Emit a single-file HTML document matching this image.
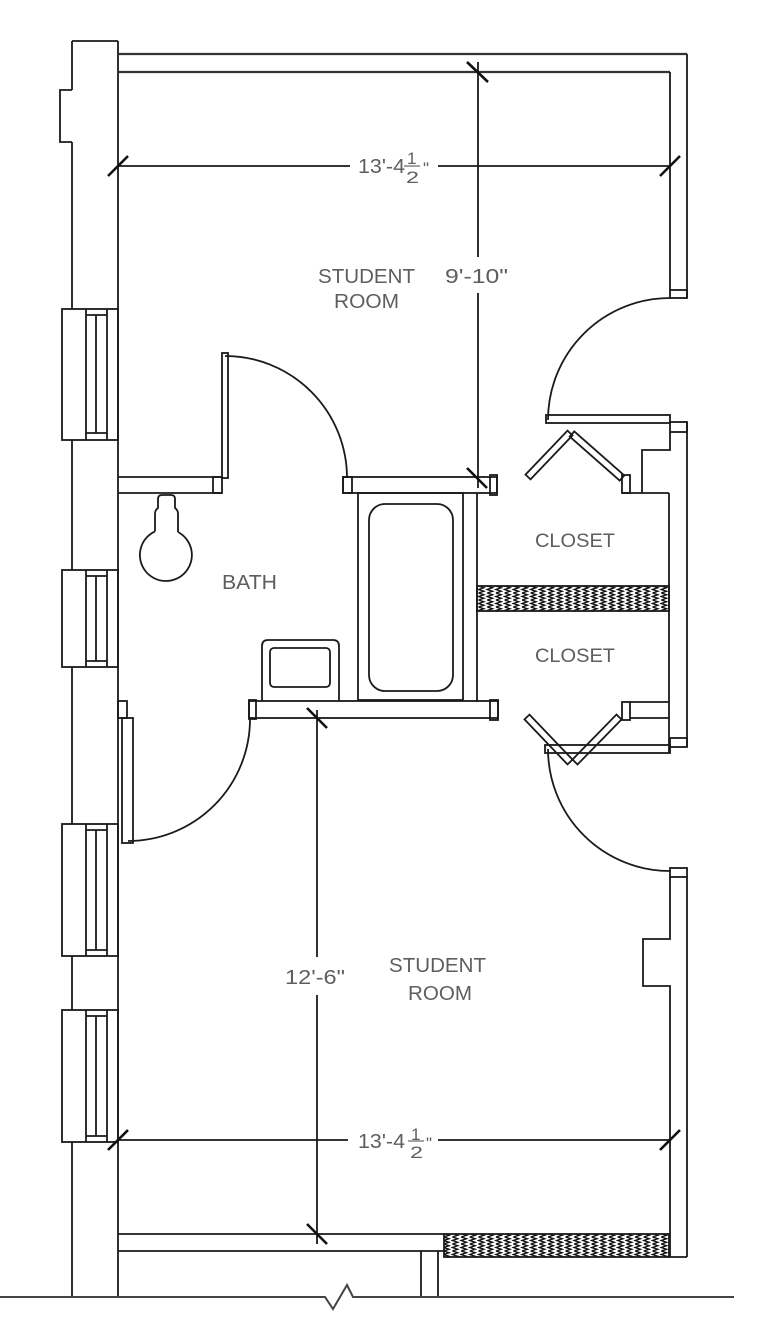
<!DOCTYPE html>
<html>
<head>
<meta charset="utf-8">
<style>
  html, body { margin: 0; padding: 0; background: #fff; }
  svg { display: block; }
  text { font-family: "Liberation Sans", sans-serif; fill: #5e5e5e; }
</style>
</head>
<body>
<svg width="762" height="1329" viewBox="0 0 762 1329" xmlns="http://www.w3.org/2000/svg">
  <defs>
    <pattern id="z" patternUnits="userSpaceOnUse" width="8.7" height="7" x="477" y="586">
      <path d="M1.5,0 L6.8,1.75 L1.5,3.5 L6.8,5.25 L1.5,7" fill="none" stroke="#111" stroke-width="1.4"/>
    </pattern>
  </defs>
  <rect width="762" height="1329" fill="#fff"/>

  <g fill="none" stroke="#1a1a1a" stroke-width="1.8">
    <!-- left column -->
    <line x1="72" y1="41" x2="118" y2="41"/>
    <line x1="118" y1="41" x2="118" y2="1297"/>
    <line x1="72" y1="41" x2="72" y2="90"/>
    <polyline points="72,90 60,90 60,142 72,142"/>
    <line x1="72" y1="142" x2="72" y2="309"/>
    <line x1="72" y1="440" x2="72" y2="570"/>
    <line x1="72" y1="667" x2="72" y2="824"/>
    <line x1="72" y1="956" x2="72" y2="1010"/>
    <line x1="72" y1="1142" x2="72" y2="1297"/>

    <!-- windows -->
    <rect x="62" y="309" width="56" height="131"/>
    <line x1="86" y1="309" x2="86" y2="440"/><line x1="107" y1="309" x2="107" y2="440"/>
    <line x1="86" y1="315" x2="107" y2="315"/><line x1="86" y1="433" x2="107" y2="433"/>
    <line x1="96" y1="315" x2="96" y2="433"/>

    <rect x="62" y="570" width="56" height="97"/>
    <line x1="86" y1="570" x2="86" y2="667"/><line x1="107" y1="570" x2="107" y2="667"/>
    <line x1="86" y1="576" x2="107" y2="576"/><line x1="86" y1="661" x2="107" y2="661"/>
    <line x1="96" y1="576" x2="96" y2="661"/>

    <rect x="62" y="824" width="56" height="132"/>
    <line x1="86" y1="824" x2="86" y2="956"/><line x1="107" y1="824" x2="107" y2="956"/>
    <line x1="86" y1="830" x2="107" y2="830"/><line x1="86" y1="950" x2="107" y2="950"/>
    <line x1="96" y1="830" x2="96" y2="950"/>

    <rect x="62" y="1010" width="56" height="132"/>
    <line x1="86" y1="1010" x2="86" y2="1142"/><line x1="107" y1="1010" x2="107" y2="1142"/>
    <line x1="86" y1="1016" x2="107" y2="1016"/><line x1="86" y1="1136" x2="107" y2="1136"/>
    <line x1="96" y1="1016" x2="96" y2="1136"/>

    <!-- top walls -->
    <line x1="118" y1="54" x2="687" y2="54" stroke="#333" stroke-width="2.2"/>
    <line x1="118" y1="72" x2="670" y2="72" stroke="#333" stroke-width="2.2"/>
    <line x1="687" y1="54" x2="687" y2="298"/>
    <line x1="670" y1="72" x2="670" y2="290"/>
    <rect x="670" y="290" width="17" height="8"/>

    <!-- upper room door -->
    <rect x="546" y="415" width="124" height="8"/>
    <path d="M548,420 A122,122 0 0 1 670,298"/>
    <rect x="670" y="422" width="17" height="10"/>
    <line x1="687" y1="422" x2="687" y2="747"/>
    <polyline points="670,432 670,450 642,450 642,493"/>
    <line x1="622" y1="493" x2="669" y2="493"/>
    <rect x="622" y="475" width="8" height="18"/>
    <line x1="669" y1="493" x2="669" y2="753"/>

    <!-- closets -->
    <line x1="477" y1="493" x2="477" y2="702"/>
    <rect x="477" y="586" width="192" height="25" fill="url(#z)"/>
    <rect x="622" y="702" width="8" height="18"/>
    <line x1="630" y1="702" x2="669" y2="702"/>
    <line x1="630" y1="718" x2="669" y2="718"/>

    <!-- bifold doors -->
    <polygon points="530.5,479.4 572.5,435.4 567.5,430.6 525.5,474.6"/>
    <polygon points="569.7,436.6 619.7,480.6 624.3,475.4 574.3,431.4"/>
    <polygon points="524.5,719.4 567.5,764.4 572.5,759.6 529.5,714.6"/>
    <polygon points="577.5,764.5 621.5,719.5 616.5,714.5 572.5,759.5"/>

    <!-- lower room door -->
    <rect x="545" y="745" width="125" height="8"/>
    <rect x="670" y="738" width="17" height="9"/>
    <path d="M670,871 A122,122 0 0 1 548,749"/>
    <rect x="670" y="868" width="17" height="9"/>
    <line x1="687" y1="877" x2="687" y2="1257"/>
    <polyline points="670,877 670,939 643,939 643,986 670,986 670,1257"/>
    <line x1="669" y1="1257" x2="687" y2="1257"/>

    <!-- bottom walls -->
    <rect x="444" y="1234" width="225" height="23" fill="url(#z)"/>
    <line x1="118" y1="1234" x2="444" y2="1234"/>
    <line x1="118" y1="1251" x2="444" y2="1251"/>
    <line x1="421" y1="1251" x2="421" y2="1297"/>
    <line x1="438" y1="1251" x2="438" y2="1297"/>
    <polyline points="0,1297 325,1297 333,1309 347,1285 353,1297 734,1297" stroke="#444" stroke-width="2"/>

    <!-- bath upper walls and door -->
    <line x1="118" y1="477" x2="222" y2="477"/>
    <line x1="118" y1="493" x2="222" y2="493"/>
    <rect x="213" y="477" width="9" height="16"/>
    <rect x="222" y="353" width="6" height="125"/>
    <path d="M225,356 A122,122 0 0 1 347,478"/>
    <rect x="343" y="477" width="154" height="16"/>
    <rect x="343" y="477" width="9" height="16"/>
    <rect x="490" y="475" width="7" height="20"/>

    <!-- tub -->
    <rect x="358" y="493" width="105" height="207"/>
    <rect x="369" y="504" width="84" height="187" rx="16" ry="16"/>

    <!-- bath lower wall -->
    <rect x="249" y="701" width="249" height="17"/>
    <rect x="249" y="700" width="7" height="19"/>
    <rect x="490" y="700" width="8" height="20"/>

    <!-- sink -->
    <path d="M262,701 L262,646 Q262,640 268,640 L333,640 Q339,640 339,646 L339,701"/>
    <rect x="270" y="648" width="60" height="39" rx="4" ry="4"/>

    <!-- toilet -->
    <path d="M155,531.4 L155,514 Q155,510 158,508 L158,499 Q158,495 162,495 L171,495 Q175,495 175,499 L175,508 Q178,510 178,514 L178,532"/>
    <path d="M178,532 A26,26 0 1 1 155,531.4"/>

    <!-- lower bath door -->
    <rect x="118" y="701" width="9" height="17"/>
    <rect x="122" y="718" width="11" height="125"/>
    <path d="M250,719 A122,122 0 0 1 128,841"/>
  </g>

  <!-- dimension lines -->
  <g stroke="#1a1a1a" stroke-width="1.8" fill="none">
    <line x1="118" y1="166" x2="350" y2="166"/>
    <line x1="438" y1="166" x2="670" y2="166"/>
    <line x1="118" y1="1140" x2="348" y2="1140"/>
    <line x1="438" y1="1140" x2="670" y2="1140"/>
    <line x1="478" y1="62" x2="478" y2="257"/>
    <line x1="478" y1="293" x2="478" y2="488"/>
    <line x1="317" y1="710" x2="317" y2="957"/>
    <line x1="317" y1="995" x2="317" y2="1244"/>
  </g>
  <g stroke="#111" stroke-width="2.6">
    <line x1="108" y1="176" x2="128" y2="156"/>
    <line x1="660" y1="176" x2="680" y2="156"/>
    <line x1="108" y1="1150" x2="128" y2="1130"/>
    <line x1="660" y1="1150" x2="680" y2="1130"/>
    <line x1="467" y1="62" x2="488" y2="82"/>
    <line x1="467" y1="468" x2="487" y2="488"/>
    <line x1="307" y1="708" x2="327" y2="728"/>
    <line x1="307" y1="1224" x2="327" y2="1244"/>
  </g>

  <!-- labels -->
  <text x="358" y="173" font-size="20" textLength="47" lengthAdjust="spacingAndGlyphs">13'-4</text>
  <text x="407" y="164" font-size="17">1</text>
  <line x1="404" y1="166" x2="420" y2="166" stroke="#666" stroke-width="1.2"/>
  <text x="406" y="183" font-size="17" textLength="13" lengthAdjust="spacingAndGlyphs">2</text>
  <text x="423" y="174" font-size="17">"</text>

  <text x="358" y="1148" font-size="20" textLength="47" lengthAdjust="spacingAndGlyphs">13'-4</text>
  <text x="411" y="1140" font-size="17">1</text>
  <line x1="408" y1="1141" x2="424" y2="1141" stroke="#666" stroke-width="1.2"/>
  <text x="410" y="1158" font-size="17" textLength="13" lengthAdjust="spacingAndGlyphs">2</text>
  <text x="426" y="1149" font-size="17">"</text>

  <text x="318" y="283" font-size="20" textLength="97" lengthAdjust="spacingAndGlyphs">STUDENT</text>
  <text x="334" y="308" font-size="20" textLength="65" lengthAdjust="spacingAndGlyphs">ROOM</text>
  <text x="445" y="283" font-size="20" textLength="63" lengthAdjust="spacingAndGlyphs">9'-10"</text>

  <text x="222" y="589" font-size="20" textLength="55" lengthAdjust="spacingAndGlyphs">BATH</text>
  <text x="535" y="547" font-size="19" textLength="80" lengthAdjust="spacingAndGlyphs">CLOSET</text>
  <text x="535" y="662" font-size="19" textLength="80" lengthAdjust="spacingAndGlyphs">CLOSET</text>

  <text x="389" y="972" font-size="20" textLength="97" lengthAdjust="spacingAndGlyphs">STUDENT</text>
  <text x="408" y="1000" font-size="20" textLength="64" lengthAdjust="spacingAndGlyphs">ROOM</text>
  <text x="285" y="984" font-size="20" textLength="60" lengthAdjust="spacingAndGlyphs">12'-6"</text>
</svg>
</body>
</html>
